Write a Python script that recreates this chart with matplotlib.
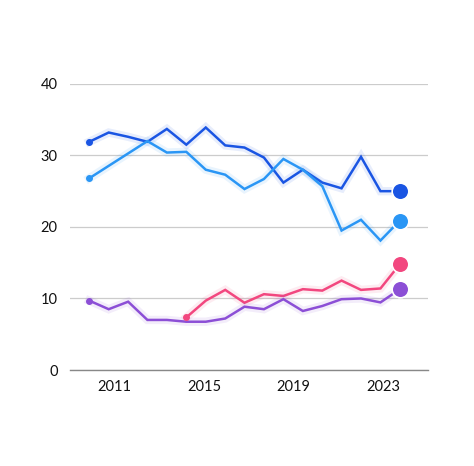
import matplotlib
matplotlib.use("Agg")
import matplotlib.pyplot as plt
import matplotlib.patheffects as pe

# survey points, evenly spaced (decimal years)
years = [2009.86, 2010.73, 2011.60, 2012.46, 2013.33, 2014.20, 2015.07, 2015.94, 2016.80,
         2017.67, 2018.54, 2019.41, 2020.28, 2021.14, 2022.01, 2022.88, 2023.75]

dark_blue = [31.9, 33.2, 32.6, 31.9, 33.7, 31.5, 33.9, 31.4, 31.1,
             29.7, 26.2, 28.0, 26.2, 25.4, 29.8, 25.0, 25.0]
light_blue_years = [2009.86] + years[3:]
light_blue = [26.8, 32.0, 30.4, 30.5, 28.0, 27.3, 25.3,
              26.7, 29.5, 28.0, 25.7, 19.5, 21.0, 18.1, 20.9]
purple = [9.7, 8.5, 9.55, 7.0, 7.0, 6.75, 6.75, 7.2, 8.85,
          8.5, 9.9, 8.25, 8.95, 9.9, 10.0, 9.45, 11.3]
pink_years = years[5:]
pink = [7.35, 9.7, 11.2, 9.4, 10.6, 10.35, 11.3, 11.1, 12.5, 11.2, 11.4, 14.8]

xticks = [2011, 2015, 2019, 2023]
yticks = [0, 10, 20, 30, 40]

series = [
    (years, dark_blue, "#1a55e3"),
    (light_blue_years, light_blue, "#2a96f5"),
    (pink_years, pink, "#f2477f"),
    (years, purple, "#8c4fd6"),
]

plt.rcParams["font.family"] = ["Lato", "DejaVu Sans"]

fig = plt.figure(figsize=(4.74, 4.66), dpi=100)
ax = fig.add_axes([0.1477, 0.206, 0.755, 0.614])

for xs, ys, col in series:
    ax.plot(xs, ys, color=col, linewidth=1.8, solid_joinstyle="miter", zorder=3,
            path_effects=[pe.Stroke(linewidth=6, foreground=col, alpha=0.1), pe.Normal()])
    ax.plot(xs[0], ys[0], "o", color=col, markersize=4, zorder=4)
    ax.plot(xs[-1], ys[-1], "o", color=col, markersize=12, markeredgecolor="white",
            markeredgewidth=1.2, zorder=5)

ax.set_xlim(2009, 2025)
ax.set_ylim(0, 40)
ax.set_xticks(xticks)
ax.set_yticks(yticks)
ax.grid(axis="y", color="#cccccc", linewidth=0.9)
ax.set_axisbelow(True)
for s in ["top", "right", "left"]:
    ax.spines[s].set_visible(False)
ax.spines["bottom"].set_color("#888888")
ax.spines["bottom"].set_linewidth(1.0)
ax.tick_params(length=0, labelsize=10.5, colors="#111111")
ax.tick_params(axis="y", pad=9)
ax.tick_params(axis="x", pad=7)

fig.savefig("out.png", dpi=100)
